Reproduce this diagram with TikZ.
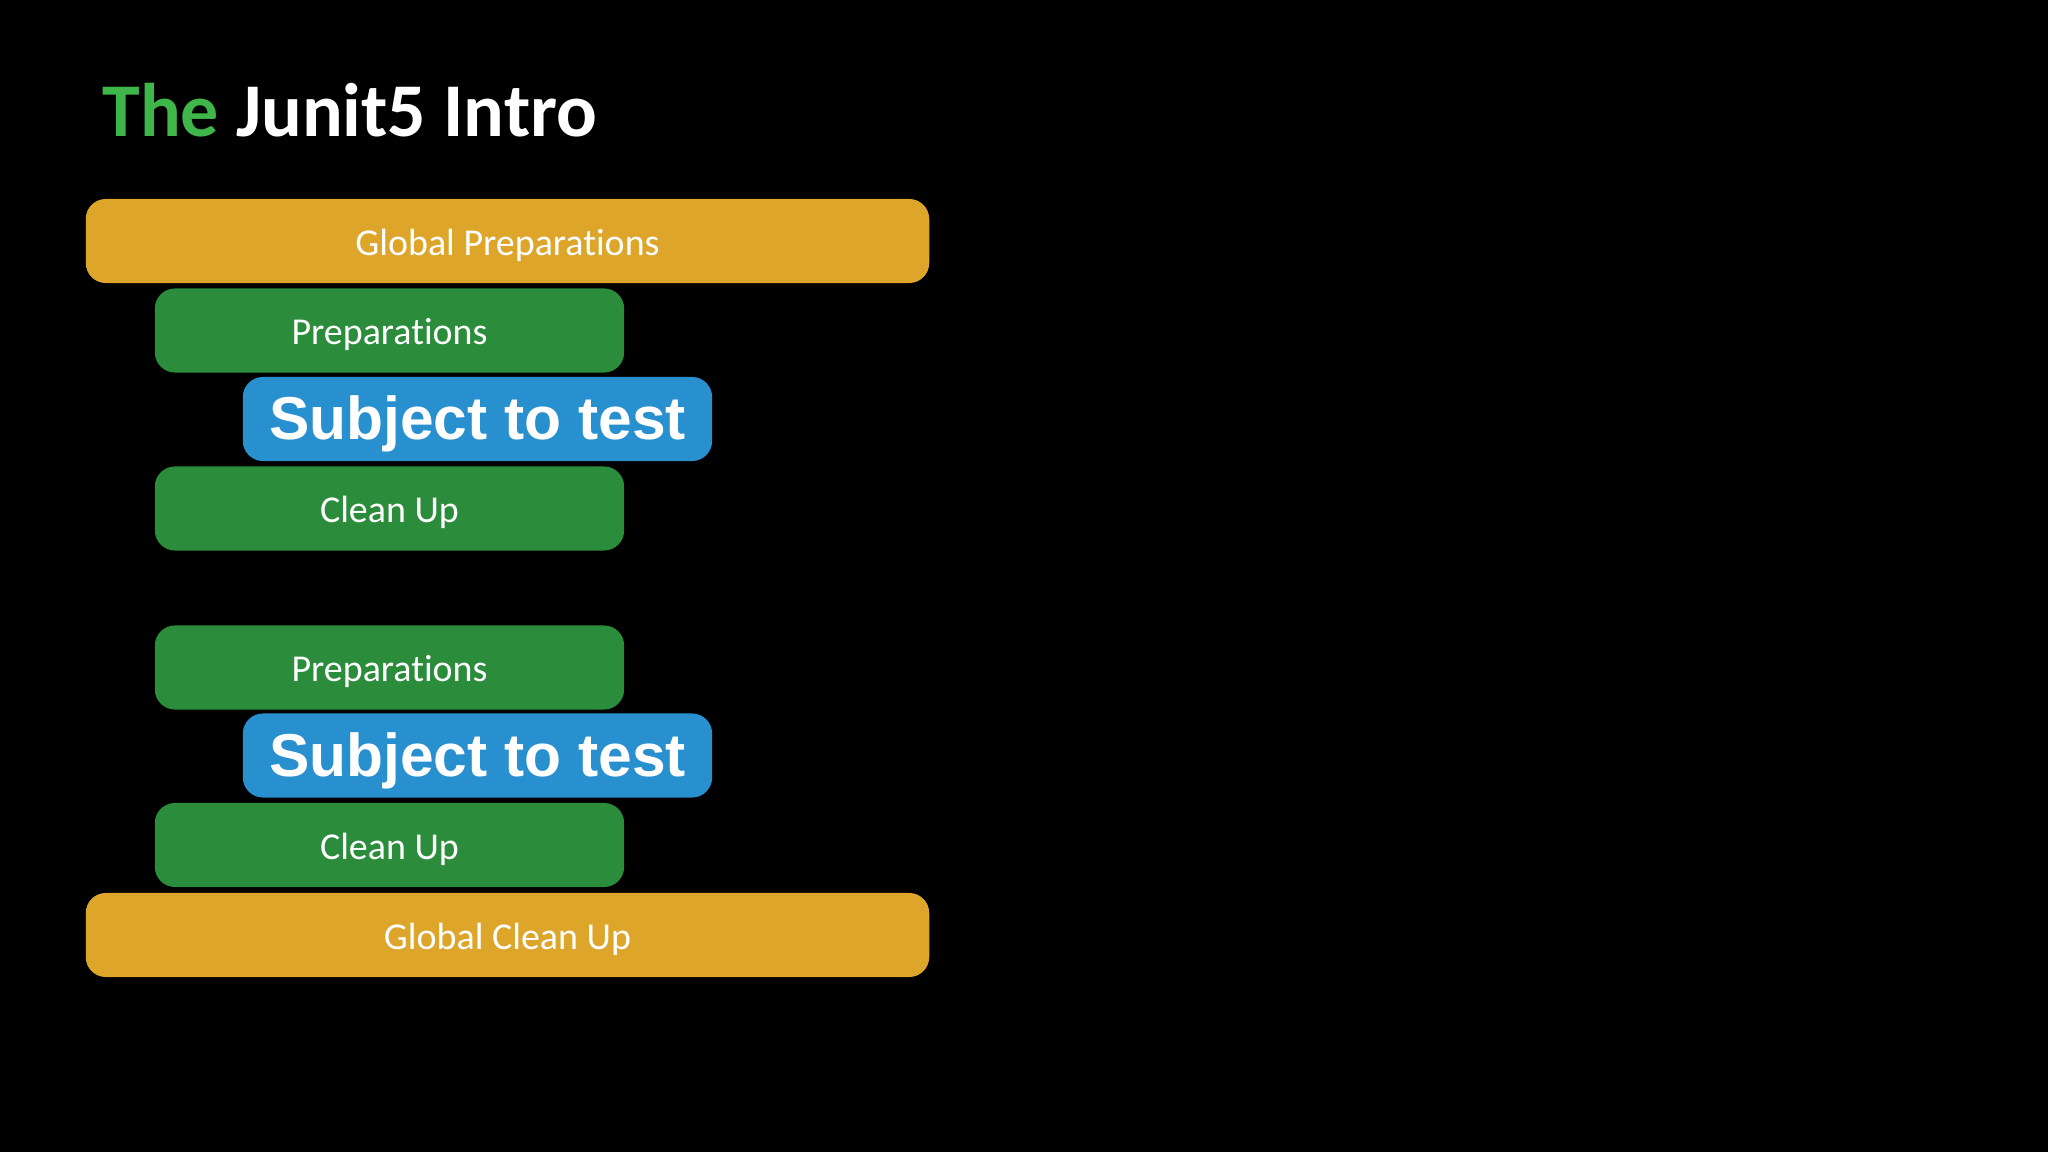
\documentclass[tikz,border=0pt]{standalone}
\usepackage{fontspec}
\setmainfont{Carlito}[Ligatures=NoCommon]
\newfontfamily\subjfont{Liberation Sans}
\definecolor{gold}{HTML}{DDA52A}
\definecolor{stepgreen}{HTML}{2B8C3B}
\definecolor{subjblue}{HTML}{2990CF}
\definecolor{titlegreen}{HTML}{3EB649}
\begin{document}
\begin{tikzpicture}[x=0.01cm, y=-0.01cm]
    \tikzset{
      bar/.style={rounded corners=0.2cm, minimum height=0.84cm, inner sep=0pt, text=white},
      globalbar/.style={bar, fill=gold, minimum width=8.43cm, text height=0.9em, text depth=0.1em,
        font=\fontsize{10.8pt}{13pt}\selectfont},
      stepbar/.style={bar, fill=stepgreen, minimum width=4.69cm, text height=0.9em, text depth=0.1em,
        font=\fontsize{10.8pt}{13pt}\selectfont},
      subjbar/.style={bar, fill=subjblue, minimum width=4.69cm, text height=1.2em, text depth=0.03em,
        font=\subjfont\bfseries\fontsize{17.2pt}{20pt}\selectfont}
    }
    \fill[black] (0,0) rectangle (2048,1152);

    \node[anchor=base west, text=white, font=\bfseries\fontsize{21.6pt}{26pt}\selectfont] (title)
      at (90,137) {\textcolor{titlegreen}{The} Junit5 Intro};

    \node[globalbar] (gprep) at (507.5,241) {Global Preparations};

    % first test
    \node[stepbar] (prepA) at (389.5,330.5) {Preparations};
    \node[subjbar] (subjA) at (477.5,419) {Subject to test};
    \node[stepbar] (cleanA) at (389.5,508.5) {Clean Up};

    % second test
    \node[stepbar] (prepB) at (389.5,667.5) {Preparations};
    \node[subjbar] (subjB) at (477.5,755.5) {Subject to test};
    \node[stepbar] (cleanB) at (389.5,845) {Clean Up};

    \node[globalbar] (gclean) at (507.5,935) {Global Clean Up};
\end{tikzpicture}
\end{document}
